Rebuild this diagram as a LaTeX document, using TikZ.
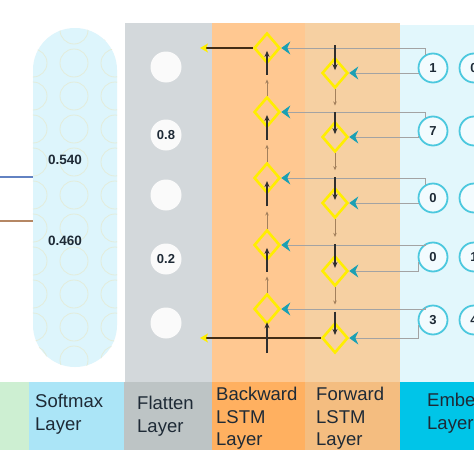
\documentclass[tikz,border=0pt]{standalone}
\usepackage{fontspec}
\setmainfont{Liberation Sans}
\usetikzlibrary{shapes.geometric, arrows.meta, calc}
\definecolor{txtdark}{HTML}{1E2A36}
\definecolor{greenbar}{HTML}{CDEFD2}
\definecolor{softbar}{HTML}{ABE5F7}
\definecolor{softcap}{HTML}{DDF5FC}
\definecolor{capring}{HTML}{E3ECDA}
\definecolor{flatcol}{HTML}{D3D8DB}
\definecolor{flatbar}{HTML}{BDC4C5}
\definecolor{bwdcol}{HTML}{FFC891}
\definecolor{bwdbar}{HTML}{FFB060}
\definecolor{fwdcol}{HTML}{F6D0A2}
\definecolor{fwdbar}{HTML}{F4BD80}
\definecolor{embcol}{HTML}{E2F7FC}
\definecolor{embbar}{HTML}{00C5E8}
\definecolor{embring}{HTML}{4CC8DE}
\definecolor{gateyel}{HTML}{FFEE00}
\definecolor{tealtip}{HTML}{1AA0B4}
\definecolor{feedgray}{HTML}{A3A3A3}
\definecolor{outblue}{HTML}{6282C2}
\definecolor{outbrown}{HTML}{B58764}
\tikzset{
layertext/.style={anchor=north west, align=left, inner sep=0pt, text=txtdark,
  font=\fontsize{18.5}{22.5}\selectfont},
gate/.style={diamond, draw=gateyel, line width=2.6pt, minimum width=26pt,
  minimum height=30pt, inner sep=0pt},
flatunit/.style={circle, fill=white!96!gray, minimum size=31pt, inner sep=0pt,
  text=txtdark, font=\fontsize{13}{13}\selectfont\bfseries},
embunit/.style={circle, draw=embring, line width=1.8pt, fill=white!55!embcol,
  minimum size=29pt, inner sep=0pt, text=txtdark, font=\fontsize{13}{13}\selectfont\bfseries},
probtext/.style={inner sep=0pt, text=txtdark, font=\fontsize{13.5}{13.5}\selectfont\bfseries},
hstate/.style={draw=black!82, line width=1.5pt, -{Stealth[length=6pt, width=5pt]}},
hpass/.style={draw=brown!55!gray, line width=0.9pt, -{Stealth[length=4pt, width=3.5pt]}},
feed/.style={draw=feedgray, line width=1pt,
  -{Stealth[length=9pt, width=13pt, inset=3pt, color=tealtip]}},
outflow/.style={draw=black!65!brown, line width=1.4pt,
  -{Stealth[length=8pt, width=9pt, inset=2pt, color=gateyel]}}
}
\begin{document}
\begin{tikzpicture}[x=1pt, y=-1pt]
\useasboundingbox (0,0) rectangle (474,474);
\clip (0,0) rectangle (474,474);
\fill[white] (0,0) rectangle (474,474);
% layer columns
\fill[flatcol] (125,23) rectangle (212,382);
\fill[bwdcol] (212,23) rectangle (305,382);
\fill[fwdcol] (305,23) rectangle (400,382);
\fill[embcol] (400,25) rectangle (474,382);
\fill[greenbar] (0,382) rectangle (29,450);
\fill[softbar] (29,382) rectangle (124,450);
\fill[flatbar] (124,382) rectangle (212,450);
\fill[bwdbar] (212,382) rectangle (305,450);
\fill[fwdbar] (305,382) rectangle (400,450);
\fill[embbar] (400,382) rectangle (474,450);
\node[layertext] (lsoft) at (35,394) {Softmax\\Layer};
\node[layertext] (lflat) at (137,396) {Flatten\\Layer};
\node[layertext] (lbwd) at (216,387) {Backward\\LSTM\\Layer};
\node[layertext] (lfwd) at (316,387) {Forward\\LSTM\\Layer};
\node[layertext] (lemb) at (427,393) {Embedding\\Layer};
% softmax capsule
\node[fill=softcap, rounded corners=41.9pt, minimum width=84pt, minimum height=339pt,
  inner sep=0pt] (sm) at (75,197.5) {};
\begin{scope}
  \clip[rounded corners=41.9pt] (sm.north west) rectangle (sm.south east);
  \foreach \x in {33,74,115}
    \foreach \y in {30,63,...,360}
      \draw[capring, line width=0.8pt] (\x,\y) circle[radius=14];
\end{scope}
\node[probtext] (p1) at (65,160) {0.540};
\node[probtext] (p2) at (65,241) {0.460};
\coordinate (lo1) at (0,177);
\coordinate (lo2) at (0,221);
\draw[outblue, line width=1.3pt] (sm.west |- lo1) -- (lo1);
\draw[outbrown, line width=1.3pt] (sm.west |- lo2) -- (lo2);
% flatten units
\foreach \y/\v [count=\i] in {67/{},135/0.8,195/{},259/0.2,323/{}}
  \node[flatunit] (f\i) at (166,\y) {\v};
% gates
\foreach \y [count=\i] in {48,112,178,245,309}
  \node[gate] (bw\i) at (267,\y) {};
\foreach \y [count=\i] in {73,137,203,271,338}
  \node[gate] (fw\i) at (335,\y) {};
% embedding units
\foreach \y/\v [count=\i] in {68/1,131/7,198/0,257/0,320/3}
  \node[embunit] (e\i) at (433,\y) {\v};
\foreach \y/\v [count=\i] in {68/0,131/{},198/{},257/1,320/4}
  \node[embunit] (ee\i) at (474,\y) {\v};
% inputs to the gates
\foreach \i in {1,...,5} {
  \draw[feed] (e\i.120) |- (bw\i.east);
  \draw[feed] (e\i.200) |- (fw\i.east);
}
% outputs
\coordinate (otop) at (200,48);
\coordinate (obot) at (200,338);
\draw[outflow] (bw1.west) -- (otop);
\draw[outflow] (fw5.west) -- (obot);
% hidden states
\foreach \i/\j in {2/1,3/2,4/3,5/4} {
  \draw[hpass] (bw\i.north) -- ($(bw\i.north)!0.34!(bw\j.center)$);
  \draw[hstate] ($(bw\i.north)!0.44!(bw\j.center)$) -- ($(bw\i.north)!0.94!(bw\j.center)$);
}
\foreach \i/\j in {1/2,2/3,3/4,4/5} {
  \draw[hpass] (fw\i.south) -- ($(fw\i.south)!0.34!(fw\j.center)$);
  \draw[hstate] ($(fw\i.south)!0.48!(fw\j.center)$) -- ($(fw\i.south)!0.94!(fw\j.center)$);
}
\coordinate (fin) at (335,45);
\coordinate (bin) at (267,353);
\draw[hstate] (fin) -- ($(fin)!0.9!(fw1.center)$);
\draw[hstate] (bin) -- ($(bin)!0.7!(bw5.center)$);
\end{tikzpicture}
\end{document}
